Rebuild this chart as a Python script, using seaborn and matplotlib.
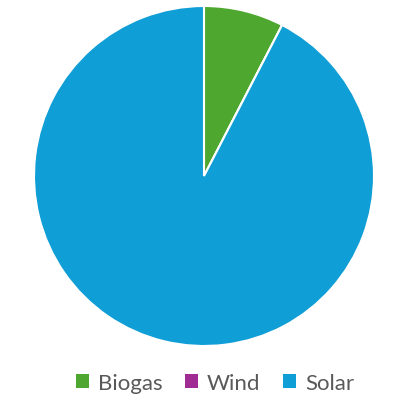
import matplotlib
matplotlib.use("Agg")
import matplotlib.pyplot as plt
from matplotlib.patches import Patch
import seaborn as sns

categories = ["Biogas", "Wind", "Solar"]
values = [7.6, 0.0, 92.4]
colors = ["#4EA72E", "#A02B93", "#0F9ED5"]

sns.set_theme(style="white")
plt.rcParams['font.family'] = ['Lato', 'DejaVu Sans']

fig = plt.figure(figsize=(4.11, 4.10), dpi=100)
ax = fig.add_axes([34/411, 63/410, 340/411, 340/410])
ax.pie(values, colors=colors, startangle=90, counterclock=False,
       wedgeprops=dict(edgecolor="white", linewidth=1.5), radius=1.0)
ax.set_xlim(-1, 1)
ax.set_ylim(-1, 1)
ax.set_aspect("equal")
ax.axis("off")

handles = [Patch(facecolor=c, edgecolor="none", label=l) for c, l in zip(colors, categories)]
leg = fig.legend(handles=handles, loc="center", bbox_to_anchor=(215/411, 1 - 384/410),
                 ncol=3, frameon=False, fontsize=16, handlelength=0.6, handleheight=0.6,
                 handletextpad=0.4, columnspacing=1.0)
for t in leg.get_texts():
    t.set_color("#595959")

fig.savefig("out.png", dpi=100)
